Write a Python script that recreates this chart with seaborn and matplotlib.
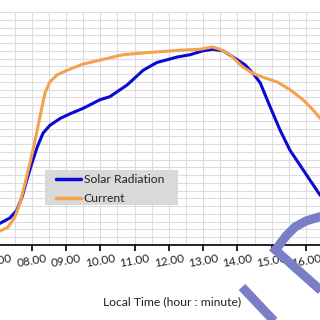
import numpy as np
import pandas as pd
import matplotlib
matplotlib.use("Agg")
import matplotlib.pyplot as plt
import seaborn as sns
from matplotlib.lines import Line2D
from matplotlib.patches import Rectangle

sns.set_theme(style="white")
plt.rcParams['font.family'] = ['Lato', 'DejaVu Sans']

# Data (hours as decimals, arbitrary units)
solar_time = [7.08, 7.37, 7.57, 7.72, 7.86, 8.01, 8.16, 8.33, 8.53, 8.83, 9.12,
              9.50, 9.99, 10.28, 10.78, 11.25, 11.65, 12.24, 12.62, 12.99, 13.29,
              13.58, 13.87, 14.22, 14.45, 14.66, 14.95, 15.24, 15.53, 15.91, 16.41]
solar_vals = [2.8, 3.5, 4.5, 6.2, 8.4, 10.6, 12.6, 14.4, 15.4, 16.3, 16.9,
              17.6, 18.7, 19.1, 20.6, 22.5, 23.5, 24.2, 24.5, 25.0, 25.2,
              25.0, 24.2, 23.2, 22.1, 20.9, 17.8, 14.8, 12.2, 9.7, 6.4]
current_time = [7.08, 7.31, 7.51, 7.66, 7.81, 7.95, 8.10, 8.24, 8.39, 8.53, 8.74,
                9.03, 9.50, 9.99, 10.66, 11.45, 12.41, 12.91, 13.26, 13.49, 13.78,
                14.16, 14.45, 14.74, 15.15, 15.53, 15.91, 16.20, 16.41]
current_vals = [1.8, 2.3, 3.6, 5.4, 8.0, 10.6, 13.5, 16.5, 19.6, 21.0, 21.9,
                22.5, 23.3, 23.8, 24.5, 24.8, 25.1, 25.2, 25.5, 25.2, 24.5,
                22.9, 22.1, 21.6, 21.0, 20.0, 18.7, 17.4, 16.3]
tick_hours = [7, 8, 9, 10, 11, 12, 13, 14, 15, 16]
tick_labels = ["07.00", "08.00", "09.00", "10.00", "11.00", "12.00", "13.00",
               "14.00", "15.00", "16.00"]
series_names = ["Solar Radiation", "Current"]
colors = ["#0a0ad2", "#f5a24e"]

df = pd.concat([
    pd.DataFrame({"time": solar_time, "value": solar_vals, "series": series_names[0]}),
    pd.DataFrame({"time": current_time, "value": current_vals, "series": series_names[1]}),
])

fig = plt.figure(figsize=(3.2, 3.2), dpi=100)
W = H = 320.0
x0h, x1h = 6.5, 16.6
pxh = 34.3
left_px = -2.6 - (7 - x0h) * pxh
ax = fig.add_axes([left_px / W, 1 - 245 / H, (x1h - x0h) * pxh / W, (245 - 12) / H])

sns.lineplot(data=df, x="time", y="value", hue="series", palette=colors,
             hue_order=series_names, linewidth=2.2, ax=ax, sort=False,
             estimator=None, zorder=3, legend=False)
for ln in ax.get_lines():
    ln.set_solid_joinstyle("round")
    ln.set_solid_capstyle("round")

ax.set_xlim(x0h, x1h)
ax.set_ylim(0, 30)
ax.set_xticks(tick_hours)
ax.set_xticklabels(tick_labels, rotation=10, fontsize=8.5, color="#222222")
ax.set_xticks(np.arange(6.5, 17.0, 0.5), minor=True)
ax.set_yticks(np.arange(0, 31, 1))
ax.tick_params(axis="y", left=False, labelleft=False)
ax.tick_params(axis="x", which="major", bottom=True, length=4, width=1.2,
               color="black", pad=2)
ax.tick_params(axis="x", which="minor", bottom=False)
ax.grid(True, which="both", axis="x", color="#dcdce0", linewidth=0.8)
ax.grid(True, which="major", axis="y", color="#dcdce0", linewidth=0.8)
for s in ["top", "left", "right"]:
    ax.spines[s].set_visible(False)
ax.spines["bottom"].set_color("black")
ax.spines["bottom"].set_linewidth(1.2)
ax.set_ylabel("")
ax.set_xlabel("")
fig.text(172 / W, 1 - 302 / H, "Local Time (hour : minute)", ha="center",
         va="center", fontsize=8.7, color="#222222")

# legend background box
ax.add_patch(Rectangle((45 / W, 1 - 205 / H), 133 / W, 35 / H,
                       transform=fig.transFigure, facecolor="#d9d9d9",
                       edgecolor="none", zorder=4, clip_on=False))
handles = [Line2D([0], [0], color=c, linewidth=2.5) for c in colors]
leg = ax.legend(handles, series_names, loc="upper left",
                bbox_to_anchor=(56 / W, 1 - 174 / H), bbox_transform=fig.transFigure,
                borderaxespad=0, borderpad=0, frameon=False, fontsize=8.7,
                handlelength=2.1, handletextpad=0.2, labelspacing=0.7)
leg.set_zorder(5)
for t in leg.get_texts():
    t.set_color("#222222")

# watermark strokes (pixel coords, y from top)
wm_color = "#7a7ec6"
strokes = [
    [(272, 247), (326, 295)],
    [(274, 252), (286, 236), (295, 227), (306, 221), (322, 216)],
    [(242, 287), (276, 323)],
]
for st in strokes:
    xs = [p[0] / W for p in st]
    ys = [1 - p[1] / H for p in st]
    fig.add_artist(Line2D(xs, ys, color=wm_color, linewidth=6.5,
                          solid_capstyle="butt", solid_joinstyle="round",
                          transform=fig.transFigure, zorder=10))

fig.savefig("out.png", dpi=100)
